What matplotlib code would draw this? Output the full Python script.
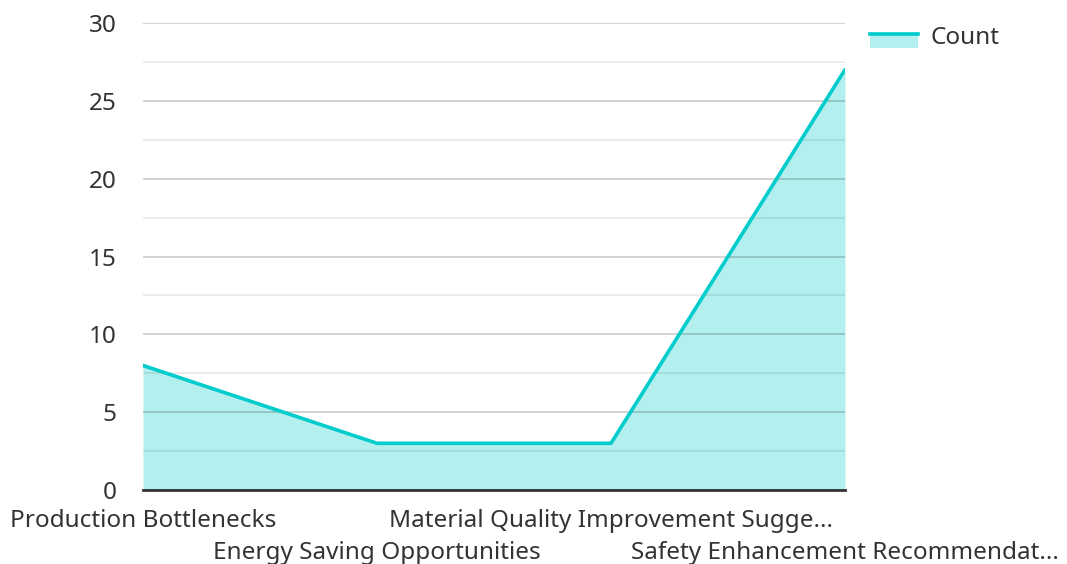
import matplotlib.pyplot as plt
from matplotlib.patches import Rectangle
from matplotlib.lines import Line2D

categories = [
    "Production Bottlenecks",
    "Energy Saving Opportunities",
    "Material Quality Improvement Sugge...",
    "Safety Enhancement Recommendat...",
]
counts = [8, 3, 3, 27]

line_color = "#00cccc"
fill_color = "#b2efee"
text_color = "#333333"

plt.rcParams["font.family"] = ["Noto Sans", "DejaVu Sans"]

fig = plt.figure(figsize=(10.67, 5.64), dpi=100)
ax = fig.add_axes([143 / 1067, 74 / 564, 702 / 1067, 467 / 564])

x = list(range(len(categories)))
ax.fill_between(x, counts, 0, color=fill_color, zorder=1, linewidth=0)
ax.plot(x, counts, color=line_color, linewidth=2.6, zorder=3, solid_capstyle="round")

ax.set_xlim(0, len(categories) - 1)
ax.set_ylim(0, 30)
ax.set_yticks(range(0, 31, 5))
ax.set_yticks([2.5 + 5 * i for i in range(6)], minor=True)
ax.grid(True, axis="y", which="major", color="#000000", alpha=0.2, linewidth=1.2, zorder=2)
ax.grid(True, axis="y", which="minor", color="#000000", alpha=0.09, linewidth=1.2, zorder=2)
ax.set_axisbelow(False)

for s in ["left", "right", "top"]:
    ax.spines[s].set_visible(False)
ax.spines["bottom"].set_color(text_color)
ax.spines["bottom"].set_linewidth(2)
ax.spines["bottom"].set_zorder(4)

ax.tick_params(axis="y", which="both", length=0, pad=19, labelsize=17.5, labelcolor=text_color)
ax.tick_params(axis="x", length=0, labelbottom=False)

# staggered category labels
for i, name in enumerate(categories):
    y_off = -0.066 if i % 2 == 0 else -0.135
    ax.text(i, y_off, name, transform=ax.get_xaxis_transform(), ha="center", va="center",
            fontsize=17.5, color=text_color)

# legend swatch
fig.add_artist(Rectangle((870 / 1067, (564 - 48) / 564), 48 / 1067, 14 / 564,
                         transform=fig.transFigure, facecolor=fill_color, edgecolor="none"))
fig.add_artist(Line2D([870 / 1067, 918 / 1067], [(564 - 34) / 564] * 2,
                      transform=fig.transFigure, color=line_color, linewidth=2.6))
fig.text(930 / 1067, (564 - 38) / 564, "Count", ha="left", va="center",
         fontsize=17.5, color=text_color)

fig.savefig("out.png", dpi=100)
